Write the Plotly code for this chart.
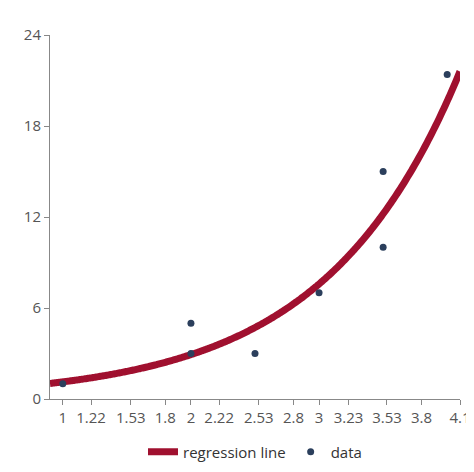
import numpy as np
import plotly.graph_objects as go

# scatter data
data_x = [1, 2, 2, 2.5, 3, 3.5, 3.5, 4]
data_y = [1, 3, 5, 3, 7, 10, 15, 21.4]

x_ticks = [1, 1.22, 1.53, 1.8, 2, 2.22, 2.53, 2.8, 3, 3.23, 3.53, 3.8, 4.1]
x_labels = ["1", "1.22", "1.53", "1.8", "2", "2.22", "2.53", "2.8", "3", "3.23", "3.53", "3.8", "4.1"]
y_ticks = [0, 6, 12, 18, 24]

# exponential regression y = a * exp(b x)
b, ln_a = np.polyfit(data_x, np.log(data_y), 1)
reg_x = np.linspace(0.9, 4.1, 200)
reg_y = np.exp(ln_a) * np.exp(b * reg_x)

fig = go.Figure()
fig.add_trace(go.Scatter(x=reg_x, y=reg_y, mode="lines", name="regression line",
                         line=dict(color="#a0102f", width=7, shape="spline")))
fig.add_trace(go.Scatter(x=data_x, y=data_y, mode="markers", name="data",
                         marker=dict(color="#2b3f5c", size=7)))

fig.update_layout(
    width=474, height=472,
    margin=dict(l=42, r=22, t=27, b=77),
    plot_bgcolor="white", paper_bgcolor="white",
    font=dict(family="Open Sans", size=15, color="#555"),
    showlegend=True,
    legend=dict(orientation="h", x=0.5, xanchor="center", y=-0.1, yanchor="top",
                font=dict(size=15, color="#333")),
    xaxis=dict(range=[0.9, 4.1], tickvals=x_ticks, ticktext=x_labels,
               showgrid=False, zeroline=False, showline=True, linecolor="#888",
               ticks="outside", ticklen=5, tickcolor="#888"),
    yaxis=dict(range=[0, 24], tickvals=y_ticks, showgrid=False, zeroline=False,
               showline=True, linecolor="#888", ticks="outside", ticklen=5,
               tickcolor="#888"),
)

fig.write_html("out.html")
